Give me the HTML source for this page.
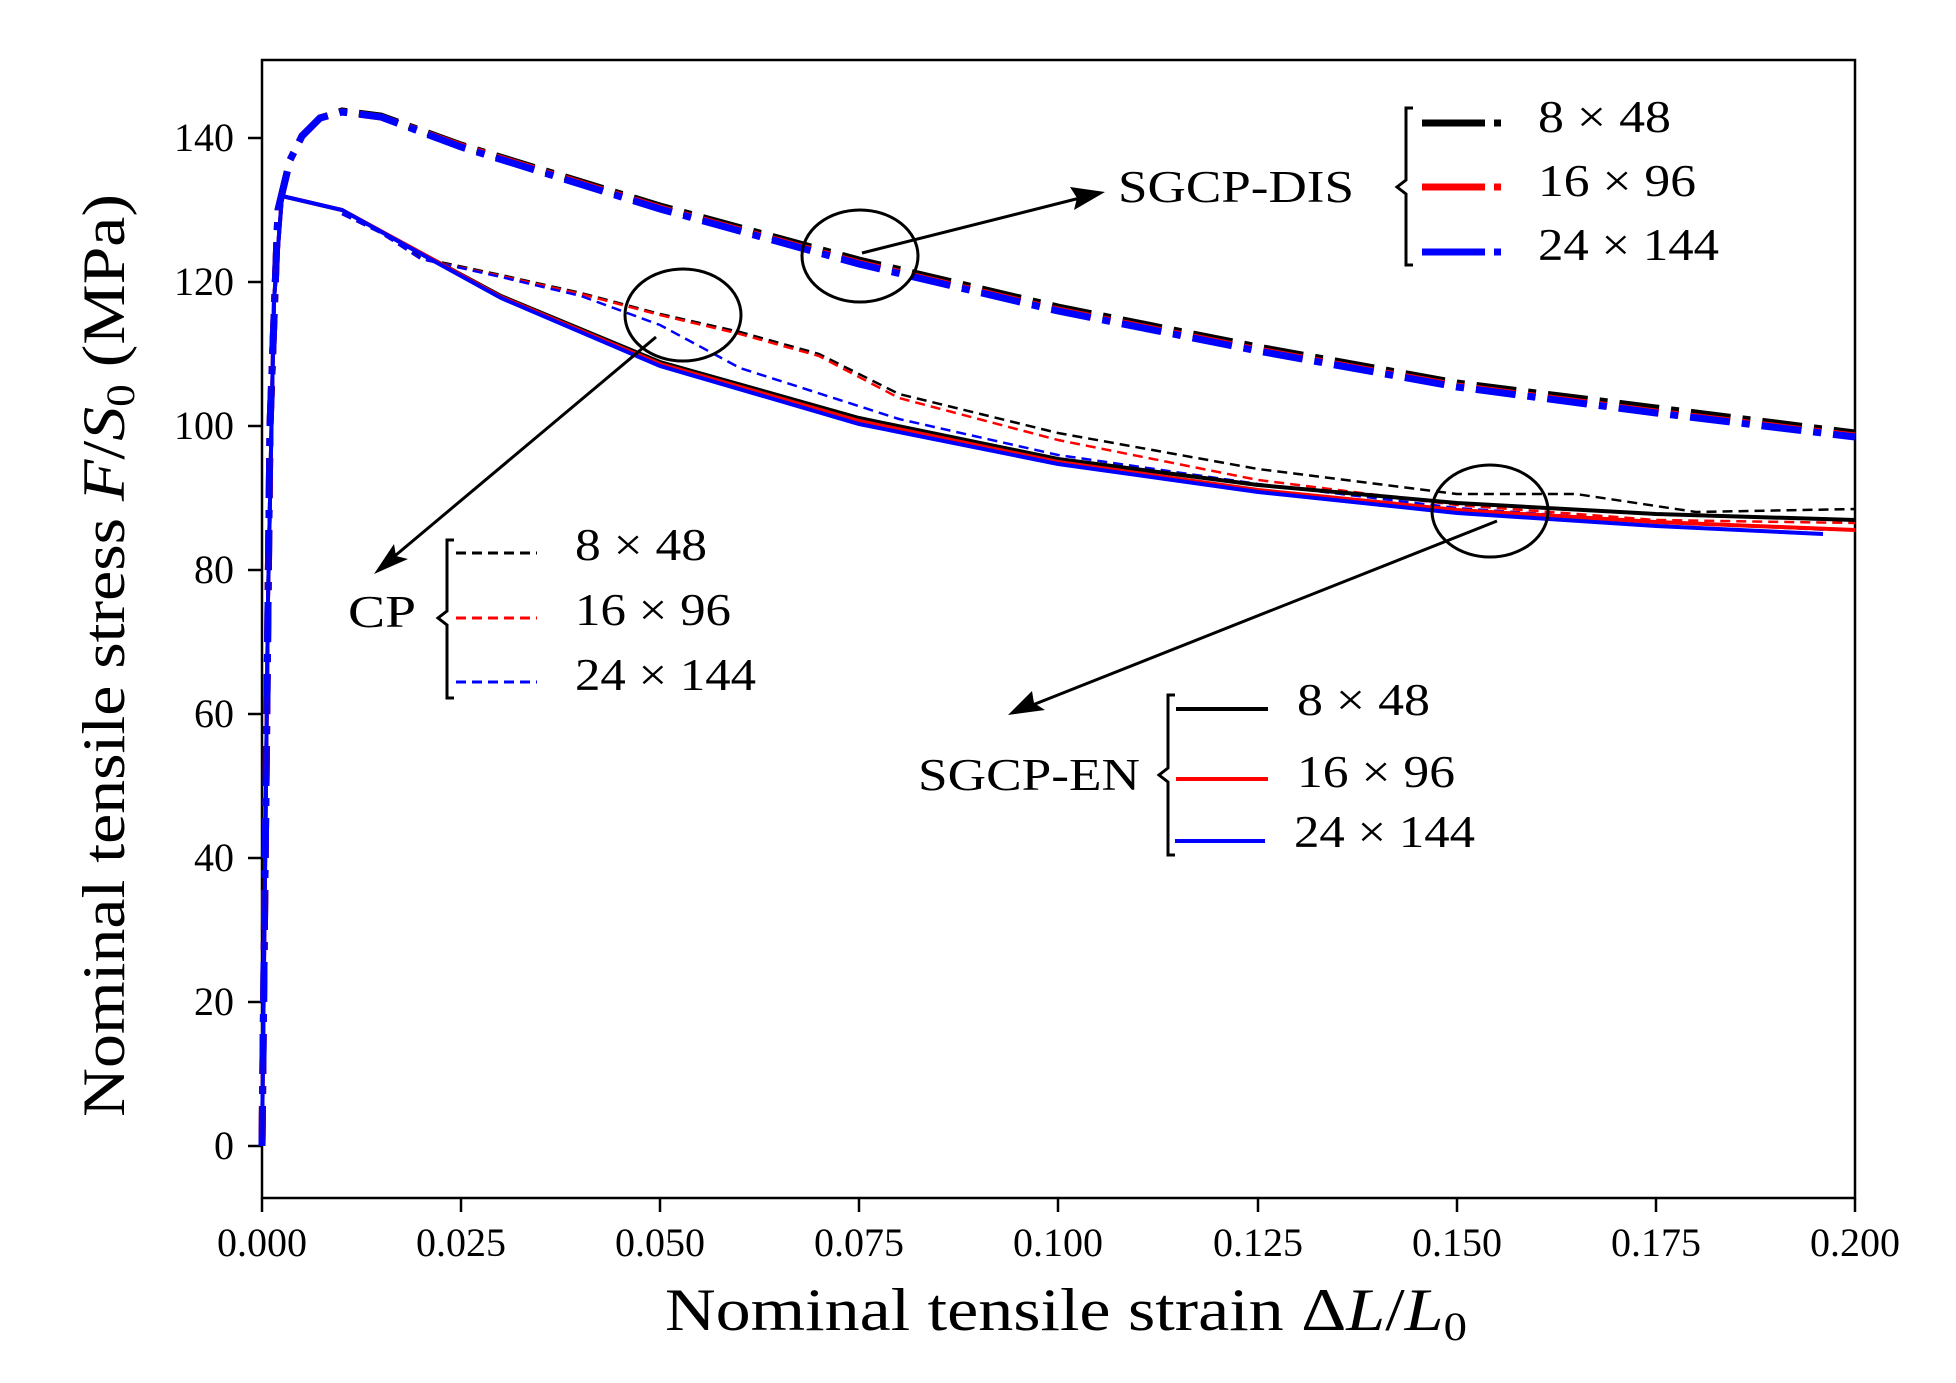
<!DOCTYPE html>
<html><head><meta charset="utf-8"><style>
html,body{margin:0;padding:0;background:#fff;}
svg{display:block;}
text{font-family:"Liberation Serif",serif;fill:#000;}
</style></head><body>
<svg width="1956" height="1383" viewBox="0 0 1956 1383" xmlns="http://www.w3.org/2000/svg">
<!-- axes -->
<rect x="262" y="60" width="1593" height="1138" fill="none" stroke="#000" stroke-width="2.5"/>
<g stroke="#000" stroke-width="2.5">
<line x1="248" y1="1146" x2="262" y2="1146"/><line x1="248" y1="1002" x2="262" y2="1002"/>
<line x1="248" y1="858" x2="262" y2="858"/><line x1="248" y1="714" x2="262" y2="714"/>
<line x1="248" y1="570" x2="262" y2="570"/><line x1="248" y1="426" x2="262" y2="426"/>
<line x1="248" y1="282" x2="262" y2="282"/><line x1="248" y1="138" x2="262" y2="138"/>
<line x1="262" y1="1198" x2="262" y2="1212"/><line x1="461" y1="1198" x2="461" y2="1212"/>
<line x1="660" y1="1198" x2="660" y2="1212"/><line x1="859" y1="1198" x2="859" y2="1212"/>
<line x1="1058" y1="1198" x2="1058" y2="1212"/><line x1="1258" y1="1198" x2="1258" y2="1212"/>
<line x1="1457" y1="1198" x2="1457" y2="1212"/><line x1="1656" y1="1198" x2="1656" y2="1212"/>
<line x1="1855" y1="1198" x2="1855" y2="1212"/>
</g>
<g font-size="40" text-anchor="end">
<text x="234" y="1159">0</text><text x="234" y="1015">20</text><text x="234" y="871">40</text>
<text x="234" y="727">60</text><text x="234" y="583">80</text><text x="234" y="439">100</text>
<text x="234" y="295">120</text><text x="234" y="151">140</text>
</g>
<g font-size="40" text-anchor="middle">
<text x="262" y="1256">0.000</text><text x="461" y="1256">0.025</text><text x="660" y="1256">0.050</text>
<text x="859" y="1256">0.075</text><text x="1058" y="1256">0.100</text><text x="1258" y="1256">0.125</text>
<text x="1457" y="1256">0.150</text><text x="1656" y="1256">0.175</text><text x="1855" y="1256">0.200</text>
</g>
<text x="665" y="1330" font-size="60" textLength="802" lengthAdjust="spacingAndGlyphs">Nominal tensile strain Δ<tspan font-style="italic">L</tspan>/<tspan font-style="italic">L</tspan><tspan font-size="40" dy="10">0</tspan></text>
<text transform="translate(124,1117) rotate(-90)" font-size="60" textLength="923" lengthAdjust="spacingAndGlyphs">Nominal tensile stress <tspan font-style="italic">F</tspan>/<tspan font-style="italic">S</tspan><tspan font-size="40" dy="10">0</tspan><tspan dy="-10"> (MPa)</tspan></text>

<!-- DIS curves -->
<g fill="none" stroke-width="7" stroke-dasharray="40,12,8,12">
<path stroke="#000" d="M262,1146 L270,426 L278,210 L290,160 L302,136 L320,118 L342,111 L381,116 L461,145 L660,206 L859,260 L1058,307 L1258,347 L1457,383 L1656,408 L1855,433"/>
<path stroke="#f00" d="M262,1146 L270,426 L278,210 L290,160 L302,136 L320,118 L342,112 L381,117 L461,146 L660,208 L859,263 L1058,310 L1258,350 L1457,386 L1656,412 L1855,436"/>
<path stroke="#00f" d="M262,1146 L270,426 L278,210 L290,160 L302,136 L320,118 L342,112 L381,117 L461,147 L660,209 L859,264 L1058,311 L1258,351 L1457,387 L1656,413 L1855,437"/>
</g>
<!-- CP dashed -->
<g fill="none" stroke-width="2.5" stroke-dasharray="10,6">
<path stroke="#000" d="M342,214 L381,232 L421,258 L501,275 L581,293 L660,314 L740,332 L819,354 L899,394 L1058,433 L1258,469 L1457,494 L1576,494 L1696,512 L1855,509"/>
<path stroke="#f00" d="M342,214 L381,233 L421,259 L501,276 L581,294 L660,315 L740,334 L819,356 L899,398 L1058,440 L1258,480 L1457,505 L1656,520 L1855,523"/>
<path stroke="#00f" d="M342,214 L381,233 L421,259 L501,277 L581,296 L660,325 L740,368 L899,419 L1058,455 L1258,484 L1457,508 L1656,522 L1830,530"/>
</g>
<!-- EN solid -->
<g fill="none" stroke-width="4">
<path stroke="#000" d="M262,1146 L268,600 L274,300 L282,196 L342,210 L421,253 L501,296 L660,362 L859,418 L1058,459 L1258,485 L1457,503 L1656,514 L1855,520"/>
<path stroke="#f00" d="M262,1146 L268,600 L274,300 L282,196 L342,210 L421,253 L501,297 L660,364 L859,421 L1058,462 L1258,490 L1457,510 L1656,522 L1855,530"/>
<path stroke="#00f" d="M262,1146 L268,600 L274,300 L282,196 L342,210 L421,254 L501,298 L660,366 L859,424 L1058,464 L1258,492 L1457,513 L1656,526 L1823,534"/>
</g>

<!-- annotations -->
<g fill="none" stroke="#000" stroke-width="3">
<ellipse cx="860" cy="256" rx="58" ry="46"/>
<ellipse cx="683" cy="315" rx="58" ry="46"/>
<ellipse cx="1490" cy="511" rx="58" ry="46"/>
<line x1="862" y1="253" x2="1080" y2="198"/>
<line x1="656" y1="337" x2="390" y2="560"/>
<line x1="1497" y1="521" x2="1025" y2="708"/>
</g>
<g fill="#000">
<polygon points="1105,192 1070,187 1077,198 1074,210"/>
<polygon points="374,574 394,544 396,556 408,559"/>
<polygon points="1008,715 1032,691 1034,703 1045,710"/>
</g>

<!-- DIS legend -->
<text x="1118" y="202" font-size="45" textLength="236" lengthAdjust="spacingAndGlyphs">SGCP-DIS</text>
<path d="M1413,108 L1406,108 L1406,180 L1397,187 L1406,194 L1406,265 L1413,265" fill="none" stroke="#000" stroke-width="3"/>
<g stroke-width="7"><line x1="1422" y1="123" x2="1485" y2="123" stroke="#000"/><line x1="1494" y1="123" x2="1501" y2="123" stroke="#000"/>
<line x1="1422" y1="187" x2="1485" y2="187" stroke="#f00"/><line x1="1494" y1="187" x2="1501" y2="187" stroke="#f00"/>
<line x1="1422" y1="252" x2="1485" y2="252" stroke="#00f"/><line x1="1494" y1="252" x2="1501" y2="252" stroke="#00f"/></g>
<g font-size="45"><text x="1538" y="132" textLength="133" lengthAdjust="spacingAndGlyphs">8 × 48</text><text x="1538" y="196" textLength="158" lengthAdjust="spacingAndGlyphs">16 × 96</text><text x="1538" y="260" textLength="181" lengthAdjust="spacingAndGlyphs">24 × 144</text></g>

<!-- CP legend -->
<text x="348" y="627" font-size="45" textLength="68" lengthAdjust="spacingAndGlyphs">CP</text>
<path d="M454,540 L447,540 L447,611 L438,618 L447,625 L447,698 L454,698" fill="none" stroke="#000" stroke-width="3"/>
<g stroke-width="3" stroke-dasharray="10,6"><line x1="456" y1="553" x2="537" y2="553" stroke="#000"/>
<line x1="456" y1="618" x2="537" y2="618" stroke="#f00"/><line x1="456" y1="682" x2="537" y2="682" stroke="#00f"/></g>
<g font-size="45"><text x="575" y="560" textLength="132" lengthAdjust="spacingAndGlyphs">8 × 48</text><text x="575" y="625" textLength="156" lengthAdjust="spacingAndGlyphs">16 × 96</text><text x="575" y="690" textLength="181" lengthAdjust="spacingAndGlyphs">24 × 144</text></g>

<!-- EN legend -->
<text x="918" y="790" font-size="45" textLength="222" lengthAdjust="spacingAndGlyphs">SGCP-EN</text>
<path d="M1175,695 L1168,695 L1168,768 L1159,775 L1168,782 L1168,855 L1175,855" fill="none" stroke="#000" stroke-width="3"/>
<g stroke-width="4"><line x1="1176" y1="709" x2="1268" y2="709" stroke="#000"/>
<line x1="1176" y1="779" x2="1268" y2="779" stroke="#f00"/><line x1="1175" y1="841" x2="1265" y2="841" stroke="#00f"/></g>
<g font-size="45"><text x="1297" y="715" textLength="133" lengthAdjust="spacingAndGlyphs">8 × 48</text><text x="1297" y="787" textLength="158" lengthAdjust="spacingAndGlyphs">16 × 96</text><text x="1294" y="847" textLength="181" lengthAdjust="spacingAndGlyphs">24 × 144</text></g>
</svg>
</body></html>
